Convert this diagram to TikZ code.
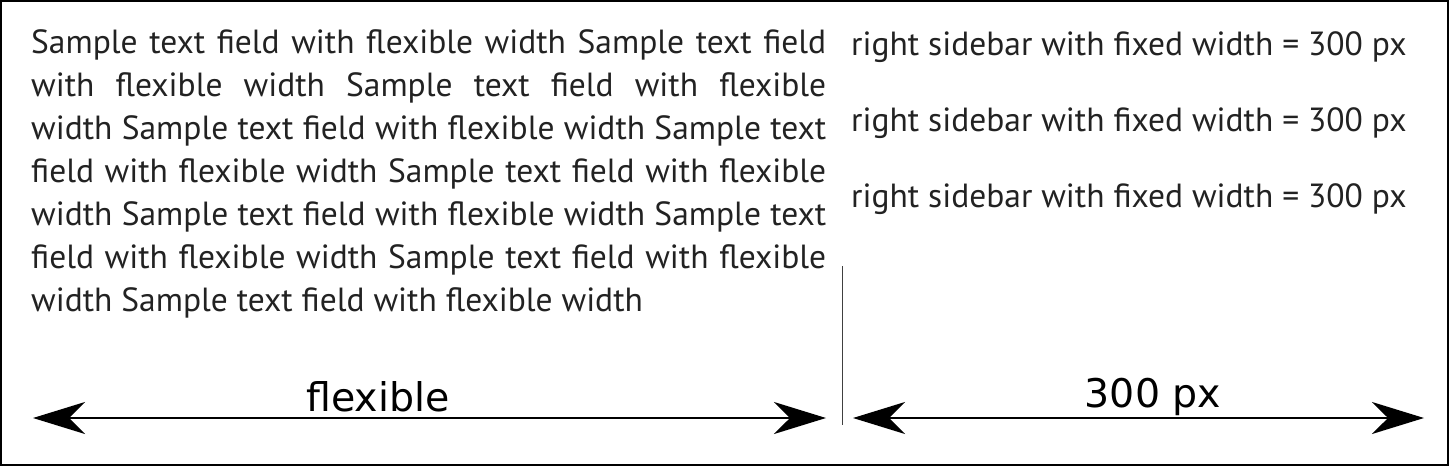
\documentclass[tikz,border=0pt]{standalone}
\usepackage{fontspec}
\setmainfont{PT Sans}
\newfontfamily\labfont{DejaVu Sans}
\usetikzlibrary{arrows.meta}
\definecolor{txt}{HTML}{222222}
\begin{document}
\begin{tikzpicture}[x=1pt,y=-1pt,
  dim/.style={line width=2.2pt,{Stealth[length=52pt,width=32pt,inset=16pt]}-{Stealth[length=52pt,width=32pt,inset=16pt]}},
  lab/.style={font=\labfont\fontsize{39.5}{44}\selectfont,anchor=base,inner sep=0}]
\useasboundingbox (0,0) rectangle (1449,466);
\draw[line width=1.5pt] (1,1) rectangle (1448,465);
\node[anchor=north west,inner sep=0,text width=795pt,align=justify,text=txt,
  font=\fontsize{33.5}{43}\selectfont] (main) at (31,29)
  {Sample text field with flexible width Sample text field\linebreak
   with flexible width Sample text field with flexible\linebreak
   width Sample text field with flexible width Sample text\linebreak
   field with flexible width Sample text field with flexible\linebreak
   width Sample text field with flexible width Sample text\linebreak
   field with flexible width Sample text field with flexible\linebreak
   width Sample text field with flexible width\par};
\foreach \i/\y in {1/55,2/131,3/207}
  \node[anchor=base west,inner sep=0,text=txt,font=\fontsize{33.5}{40}\selectfont] (s\i) at (851,\y) {right sidebar with fixed width = 300 px};
\coordinate (v1) at (842,266); \coordinate (v2) at (842,425);
\draw[line width=1pt,black!75] (v1) -- (v2);
\coordinate (a1) at (33,418); \coordinate (a2) at (826,418);
\coordinate (b1) at (853,418); \coordinate (b2) at (1424,418);
\draw[dim] (a1) -- (a2);
\draw[dim] (b1) -- (b2);
\node[lab] (lf) at (378,411) {flexible};
\node[lab] (lr) at (1153,407) {300 px};
\end{tikzpicture}
\end{document}
